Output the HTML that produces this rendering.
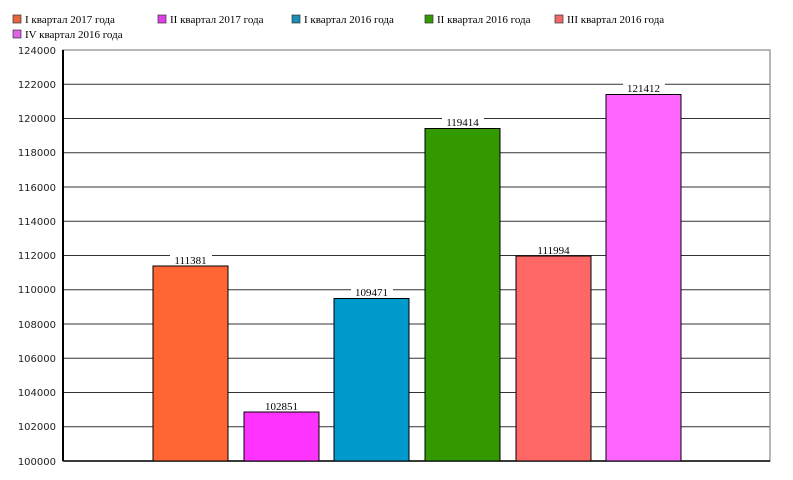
<!DOCTYPE html><html><head><style>body{margin:0;background:#fff}</style></head><body>
<svg width="793" height="475" xmlns="http://www.w3.org/2000/svg" font-family="Liberation Serif, serif" font-size="11">
<rect width="793" height="475" fill="#fff"/>
<g>
<rect x="13" y="15" width="8" height="8" fill="#e8663c" stroke="#333" stroke-width="0.7"/><text x="25" y="23">I квартал 2017 года</text>
<rect x="158" y="15" width="8" height="8" fill="#e040e8" stroke="#333" stroke-width="0.7"/><text x="170" y="23">II квартал 2017 года</text>
<rect x="292" y="15" width="8" height="8" fill="#1a8cb8" stroke="#333" stroke-width="0.7"/><text x="304" y="23">I квартал 2016 года</text>
<rect x="425" y="15" width="8" height="8" fill="#339900" stroke="#333" stroke-width="0.7"/><text x="437" y="23">II квартал 2016 года</text>
<rect x="555" y="15" width="8" height="8" fill="#f06a6a" stroke="#333" stroke-width="0.7"/><text x="567" y="23">III квартал 2016 года</text>
<rect x="13" y="30" width="8" height="8" fill="#e060e8" stroke="#333" stroke-width="0.7"/><text x="25" y="38">IV квартал 2016 года</text>
</g>
<g stroke="#333" stroke-width="1">
<line x1="63" y1="84.25" x2="770" y2="84.25"/><line x1="63" y1="118.5" x2="770" y2="118.5"/><line x1="63" y1="152.75" x2="770" y2="152.75"/><line x1="63" y1="187" x2="770" y2="187"/><line x1="63" y1="221.25" x2="770" y2="221.25"/><line x1="63" y1="255.5" x2="770" y2="255.5"/><line x1="63" y1="289.75" x2="770" y2="289.75"/><line x1="63" y1="324" x2="770" y2="324"/><line x1="63" y1="358.25" x2="770" y2="358.25"/><line x1="63" y1="392.5" x2="770" y2="392.5"/><line x1="63" y1="426.75" x2="770" y2="426.75"/>
</g>
<rect x="63" y="50" width="707" height="411" fill="none" stroke="#888" stroke-width="1.2"/>
<line x1="63" y1="50" x2="63" y2="461" stroke="#000" stroke-width="2"/>
<line x1="63" y1="461" x2="770" y2="461" stroke="#000" stroke-width="1.5"/>
<g font-family="DejaVu Sans, sans-serif" font-size="10" text-anchor="end" fill="#222">
<text x="56" y="54">124000</text><text x="56" y="88">122000</text><text x="56" y="122">120000</text><text x="56" y="156">118000</text><text x="56" y="191">116000</text><text x="56" y="225">114000</text><text x="56" y="259">112000</text><text x="56" y="293">110000</text><text x="56" y="328">108000</text><text x="56" y="362">106000</text><text x="56" y="396">104000</text><text x="56" y="430">102000</text><text x="56" y="465">100000</text>
</g>
<g stroke="#000" stroke-width="1">
<rect x="153" y="266" width="75" height="195" fill="#ff6633"/>
<rect x="244" y="412" width="75" height="49" fill="#ff33ff"/>
<rect x="334" y="298.5" width="75" height="162.5" fill="#0099cc"/>
<rect x="425" y="128.5" width="75" height="332.5" fill="#339900"/>
<rect x="516" y="256" width="75" height="205" fill="#ff6666"/>
<rect x="606" y="94.5" width="75" height="366.5" fill="#ff66ff"/>
</g>
<g text-anchor="middle" font-size="11">
<rect x="170" y="254" width="42" height="11" fill="#fff"/><text x="190.5" y="264">111381</text>
<rect x="261" y="400" width="42" height="11" fill="#fff"/><text x="281.5" y="410">102851</text>
<rect x="351" y="287" width="42" height="11" fill="#fff"/><text x="371.5" y="296">109471</text>
<rect x="442" y="117" width="42" height="11" fill="#fff"/><text x="462.5" y="126">119414</text>
<rect x="533" y="244" width="42" height="11" fill="#fff"/><text x="553.5" y="254">111994</text>
<rect x="623" y="83" width="42" height="11" fill="#fff"/><text x="643.5" y="92">121412</text>
</g>
</svg>
</body></html>
